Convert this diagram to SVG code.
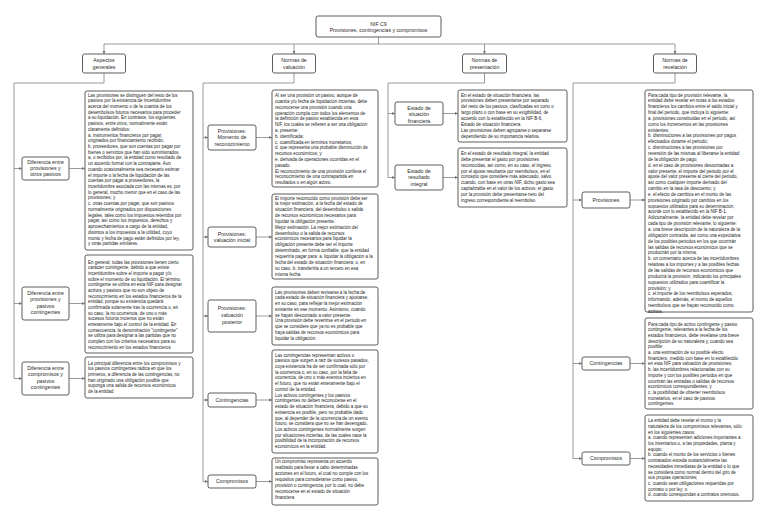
<svg xmlns="http://www.w3.org/2000/svg" width="768" height="521" viewBox="0 0 768 521">
<defs>
<marker id="ah" viewBox="0 0 6 6" refX="6" refY="3" markerWidth="3.5" markerHeight="3.5" markerUnits="userSpaceOnUse" orient="auto"><path d="M0,0 L6,3 L0,6 z" fill="#777"/></marker>
<style>
.box{fill:#fff;stroke:#555;stroke-width:0.95}
.lbl{font-family:"Liberation Sans",Arial,sans-serif;font-size:5.2px;fill:#2a2a2a;text-anchor:middle}
.txt{font-family:"Liberation Sans",Arial,sans-serif;font-size:4.45px;fill:#1a1a1a}
.c{fill:none;stroke:#808080;stroke-width:0.8}
.a{fill:none;stroke:#808080;stroke-width:0.8;marker-end:url(#ah)}
</style>
</defs>
<rect width="768" height="521" fill="#fff"/>
<g id="connectors">
<path class="c" d="M378.5,37 V44 M104,44 H675"/>
<path class="a" d="M104,44 V54"/><path class="a" d="M294,44 V54"/><path class="a" d="M484.5,44 V54"/><path class="a" d="M675,44 V54"/>
<path class="c" d="M104,73 V83 H14 V378.5"/>
<path class="a" d="M14,168.5 H22"/><path class="a" d="M14,303.5 H22"/><path class="a" d="M14,378.5 H22"/>
<path class="a" d="M69,168.5 H85"/><path class="a" d="M69,303.5 H85"/><path class="a" d="M69,378.5 H85"/>
<path class="c" d="M294,73 V83 H203 V481.5"/>
<path class="a" d="M203,137.5 H208"/><path class="a" d="M203,237 H208"/><path class="a" d="M203,316 H208"/><path class="a" d="M203,400 H208"/><path class="a" d="M203,481.5 H208"/>
<path class="a" d="M256,137.5 H272"/><path class="a" d="M256,237 H272"/><path class="a" d="M256,316 H272"/><path class="a" d="M256,400 H272"/><path class="a" d="M256,481.5 H272"/>
<path class="c" d="M484.5,73 V83 H388 V177.5"/>
<path class="a" d="M388,113.5 H395"/><path class="a" d="M388,177.5 H395"/>
<path class="a" d="M443,113.5 H458"/><path class="a" d="M443,177.5 H458"/>
<path class="c" d="M675,73 V83 H573 V458.5"/>
<path class="a" d="M573,200 H582"/><path class="a" d="M573,363.5 H582"/><path class="a" d="M573,458.5 H582"/>
<path class="a" d="M630,200 H645"/><path class="a" d="M630,363.5 H645"/><path class="a" d="M630,458.5 H645"/>
</g>
<g id="root"><rect class="box" x="316" y="16" width="125" height="21" rx="2"/><text class="lbl" x="378.5" y="25.5">NIF C9</text><text class="lbl" x="378.5" y="32">Provisiones, contingencias y compromisos</text></g>
<g id="aspectos"><rect class="box" x="82.5" y="54" width="43" height="19" rx="2"/><text class="lbl" x="104" y="62">Aspectos</text><text class="lbl" x="104" y="68.5">generales</text></g>
<g id="valuacion"><rect class="box" x="272.5" y="54" width="43" height="19" rx="2"/><text class="lbl" x="294" y="62">Normas de</text><text class="lbl" x="294" y="68.5">valuación</text></g>
<g id="presentacion"><rect class="box" x="462.5" y="54" width="44" height="19" rx="2"/><text class="lbl" x="484.5" y="62">Normas de</text><text class="lbl" x="484.5" y="68.5">presentación</text></g>
<g id="revelacion"><rect class="box" x="653.5" y="54" width="43" height="19" rx="2"/><text class="lbl" x="675" y="62">Normas de</text><text class="lbl" x="675" y="68.5">revelación</text></g>

<g id="dif-otros"><rect class="box" x="22" y="157" width="47" height="23" rx="2"/><text class="lbl" x="45.5" y="163.5">Diferencia entre<tspan x="45.5" dy="6">provisiones y</tspan><tspan x="45.5" dy="6">otros pasivos</tspan></text></g>
<g id="dif-otros-txt"><rect class="box" x="85" y="91" width="108" height="159" rx="2"/><text class="txt" x="88" y="96.5">Las provisiones se distinguen del resto de los<tspan x="88" dy="5.72">pasivos por la existencia de incertidumbre</tspan><tspan x="88" dy="5.72">acerca del momento o de la cuantía de los</tspan><tspan x="88" dy="5.72">desembolsos futuros necesarios para proceder</tspan><tspan x="88" dy="5.72">a su liquidación. En contraste, los siguientes</tspan><tspan x="88" dy="5.72">pasivos, entre otros, normalmente están</tspan><tspan x="88" dy="5.72">claramente definidos:</tspan><tspan x="88" dy="5.72">a. instrumentos financieros por pagar,</tspan><tspan x="88" dy="5.72">originados por financiamiento recibido;</tspan><tspan x="88" dy="5.72">b. proveedores, que son cuentas por pagar por</tspan><tspan x="88" dy="5.72">bienes o servicios que han sido suministrados</tspan><tspan x="88" dy="5.72">a, o recibidos por, la entidad como resultado de</tspan><tspan x="88" dy="5.72">un acuerdo formal con la contraparte. Aun</tspan><tspan x="88" dy="5.72">cuando ocasionalmente sea necesario estimar</tspan><tspan x="88" dy="5.72">el importe o la fecha de liquidación de las</tspan><tspan x="88" dy="5.72">cuentas por pagar a proveedores, la</tspan><tspan x="88" dy="5.72">incertidumbre asociada con las mismas es, por</tspan><tspan x="88" dy="5.72">lo general, mucho menor que en el caso de las</tspan><tspan x="88" dy="5.72">provisiones; y</tspan><tspan x="88" dy="5.72">c. otras cuentas por pagar, que son pasivos</tspan><tspan x="88" dy="5.72">normalmente originados por disposiciones</tspan><tspan x="88" dy="5.72">legales, tales como los impuestos retenidos por</tspan><tspan x="88" dy="5.72">pagar, así como los impuestos, derechos y</tspan><tspan x="88" dy="5.72">aprovechamientos a cargo de la entidad,</tspan><tspan x="88" dy="5.72">distintos a los impuestos a la utilidad, cuyo</tspan><tspan x="88" dy="5.72">monto y fecha de pago están definidos por ley,</tspan><tspan x="88" dy="5.72">y otras partidas similares.</tspan></text></g>

<g id="dif-contingentes"><rect class="box" x="22" y="287" width="47" height="33" rx="2"/><text class="lbl" x="45.5" y="294.5">Diferencia entre<tspan x="45.5" dy="6.5">provisiones y</tspan><tspan x="45.5" dy="6.5">pasivos</tspan><tspan x="45.5" dy="6.5">contingentes</tspan></text></g>
<g id="dif-contingentes-txt"><rect class="box" x="85" y="255" width="108" height="98" rx="2"/><text class="txt" x="88" y="263.5">En general, todas las provisiones tienen cierto<tspan x="88" dy="5.67">carácter contingente, debido a que existe</tspan><tspan x="88" dy="5.67">incertidumbre sobre el importe a pagar y/o</tspan><tspan x="88" dy="5.67">sobre el momento de su liquidación. El término</tspan><tspan x="88" dy="5.67">contingente se utiliza en esta NIF para designar</tspan><tspan x="88" dy="5.67">activos y pasivos que no son objeto de</tspan><tspan x="88" dy="5.67">reconocimiento en los estados financieros de la</tspan><tspan x="88" dy="5.67">entidad, porque su existencia quedará</tspan><tspan x="88" dy="5.67">confirmada solamente tras la ocurrencia o, en</tspan><tspan x="88" dy="5.67">su caso, la no ocurrencia, de uno o más</tspan><tspan x="88" dy="5.67">sucesos futuros inciertos que no están</tspan><tspan x="88" dy="5.67">enteramente bajo el control de la entidad. En</tspan><tspan x="88" dy="5.67">consecuencia, la denominación "contingente"</tspan><tspan x="88" dy="5.67">se utiliza para designar a las partidas que no</tspan><tspan x="88" dy="5.67">cumplen con los criterios necesarios para su</tspan><tspan x="88" dy="5.67">reconocimiento en los estados financieros</tspan></text></g>

<g id="dif-compromisos"><rect class="box" x="22" y="362" width="47" height="33" rx="2"/><text class="lbl" x="45.5" y="369.5">Diferencia entre<tspan x="45.5" dy="6.5">compromisos y</tspan><tspan x="45.5" dy="6.5">pasivos</tspan><tspan x="45.5" dy="6.5">contingentes</tspan></text></g>
<g id="dif-compromisos-txt"><rect class="box" x="85" y="357" width="108" height="41" rx="2"/><text class="txt" x="88" y="364.5">La principal diferencia entre los compromisos y<tspan x="88" dy="5.7">los pasivos contingentes radica en que los</tspan><tspan x="88" dy="5.7">primeros, a diferencia de las contingencias, no</tspan><tspan x="88" dy="5.7">han originado una obligación posible que</tspan><tspan x="88" dy="5.7">suponga una salida de recursos económicos</tspan><tspan x="88" dy="5.7">de la entidad</tspan></text></g>

<g id="val-momento"><rect class="box" x="208" y="125" width="48" height="25" rx="2"/><text class="lbl" x="232" y="132.5">Provisiones:<tspan x="232" dy="6.5">Momento de</tspan><tspan x="232" dy="6.5">reconocimiento</tspan></text></g>
<g id="val-momento-txt"><rect class="box" x="272" y="90" width="106" height="97" rx="2"/><text class="txt" x="275" y="97.2">Al ser una provisión un pasivo, aunque de<tspan x="275" dy="5.8">cuantía y/o fecha de liquidación inciertas, debe</tspan><tspan x="275" dy="5.8">reconocerse una provisión cuando una</tspan><tspan x="275" dy="5.8">operación cumpla con todos los elementos de</tspan><tspan x="275" dy="5.8">la definición de pasivo establecida en esta</tspan><tspan x="275" dy="5.8">NIF, los cuales se refieren a ser una obligación:</tspan><tspan x="275" dy="5.8">a. presente;</tspan><tspan x="275" dy="5.8">b. identificada;</tspan><tspan x="275" dy="5.8">c. cuantificada en términos monetarios;</tspan><tspan x="275" dy="5.8">d. que representa una probable disminución de</tspan><tspan x="275" dy="5.8">recursos económicos; y</tspan><tspan x="275" dy="5.8">e. derivada de operaciones ocurridas en el</tspan><tspan x="275" dy="5.8">pasado.</tspan><tspan x="275" dy="5.8">El reconocimiento de una provisión conlleva el</tspan><tspan x="275" dy="5.8">reconocimiento de una contrapartida en</tspan><tspan x="275" dy="5.8">resultados o en algún activo.</tspan></text></g>

<g id="val-inicial"><rect class="box" x="208" y="227" width="48" height="20" rx="2"/><text class="lbl" x="232" y="235.5">Provisiones:<tspan x="232" dy="6.5">valuación inicial</tspan></text></g>
<g id="val-inicial-txt"><rect class="box" x="272" y="194" width="106" height="85" rx="2"/><text class="txt" x="275" y="199.5">El importe reconocido como provisión debe ser<tspan x="275" dy="5.85">la mejor estimación, a la fecha del estado de</tspan><tspan x="275" dy="5.85">situación financiera, del desembolso o salida</tspan><tspan x="275" dy="5.85">de recursos económicos necesarios para</tspan><tspan x="275" dy="5.85">liquidar la obligación presente.</tspan><tspan x="275" dy="5.85">Mejor estimación. La mejor estimación del</tspan><tspan x="275" dy="5.85">desembolso o la salida de recursos</tspan><tspan x="275" dy="5.85">económicos necesarios para liquidar la</tspan><tspan x="275" dy="5.85">obligación presente debe ser el importe</tspan><tspan x="275" dy="5.85">determinado, en forma confiable, que la entidad</tspan><tspan x="275" dy="5.85">requeriría pagar para: a. liquidar la obligación a la</tspan><tspan x="275" dy="5.85">fecha del estado de situación financiera; o, en</tspan><tspan x="275" dy="5.85">su caso, b. transferirla a un tercero en esa</tspan><tspan x="275" dy="5.85">misma fecha.</tspan></text></g>

<g id="val-posterior"><rect class="box" x="208" y="300" width="48" height="32" rx="2"/><text class="lbl" x="232" y="310">Provisiones:<tspan x="232" dy="6.8">valuación</tspan><tspan x="232" dy="6.8">posterior</tspan></text></g>
<g id="val-posterior-txt"><rect class="box" x="272" y="287" width="106" height="58" rx="2"/><text class="txt" x="275" y="293.5">Las provisiones deben revisarse a la fecha de<tspan x="275" dy="5.75">cada estado de situación financiera y ajustarse,</tspan><tspan x="275" dy="5.75">en su caso, para reflejar la mejor estimación</tspan><tspan x="275" dy="5.75">existente en ese momento. Asimismo, cuando</tspan><tspan x="275" dy="5.75">se hayan descontado a valor presente.</tspan><tspan x="275" dy="5.75">Una provisión debe revertirse en el período en</tspan><tspan x="275" dy="5.75">que se considere que ya no es probable que</tspan><tspan x="275" dy="5.75">haya salidas de recursos económicos para</tspan><tspan x="275" dy="5.75">liquidar la obligación.</tspan></text></g>

<g id="val-contingencias"><rect class="box" x="208" y="393" width="48" height="14" rx="2"/><text class="lbl" x="232" y="401.8">Contingencias</text></g>
<g id="val-contingencias-txt"><rect class="box" x="272" y="350" width="106" height="103" rx="2"/><text class="txt" x="275" y="356.5">Las contingencias representan activos o<tspan x="275" dy="5.73">pasivos que surgen a raíz de sucesos pasados,</tspan><tspan x="275" dy="5.73">cuya existencia ha de ser confirmada sólo por</tspan><tspan x="275" dy="5.73">la ocurrencia o, en su caso, por la falta de</tspan><tspan x="275" dy="5.73">ocurrencia, de uno o más eventos inciertos en</tspan><tspan x="275" dy="5.73">el futuro, que no están enteramente bajo el</tspan><tspan x="275" dy="5.73">control de la entidad.</tspan><tspan x="275" dy="5.73">Los activos contingentes y los pasivos</tspan><tspan x="275" dy="5.73">contingentes no deben reconocerse en el</tspan><tspan x="275" dy="5.73">estado de situación financiera, debido a que su</tspan><tspan x="275" dy="5.73">existencia es posible, pero no probable dado</tspan><tspan x="275" dy="5.73">que, al depender de la ocurrencia de un evento</tspan><tspan x="275" dy="5.73">futuro, se considera que no se han devengado.</tspan><tspan x="275" dy="5.73">Los activos contingentes normalmente surgen</tspan><tspan x="275" dy="5.73">por situaciones inciertas, de las cuales nace la</tspan><tspan x="275" dy="5.73">posibilidad de la incorporación de recursos</tspan><tspan x="275" dy="5.73">económicos en la entidad.</tspan></text></g>

<g id="val-compromisos"><rect class="box" x="208" y="475" width="48" height="13" rx="2"/><text class="lbl" x="232" y="483.3">Compromisos</text></g>
<g id="val-compromisos-txt"><rect class="box" x="272" y="458" width="106" height="47" rx="2"/><text class="txt" x="275" y="462.5">Un compromiso representa un acuerdo<tspan x="275" dy="6">realizado para llevar a cabo determinadas</tspan><tspan x="275" dy="6">acciones en el futuro, el cual no cumple con los</tspan><tspan x="275" dy="6">requisitos para considerarse como pasivo,</tspan><tspan x="275" dy="6">provisión o contingencia, por lo cual, no debe</tspan><tspan x="275" dy="6">reconocerse en el estado de situación</tspan><tspan x="275" dy="6">financiera</tspan></text></g>

<g id="pre-situacion"><rect class="box" x="395" y="102" width="48" height="23" rx="2"/><text class="lbl" x="419" y="109.5">Estado de<tspan x="419" dy="6.8">situación</tspan><tspan x="419" dy="6.8">financiera</tspan></text></g>
<g id="pre-situacion-txt"><rect class="box" x="458" y="90" width="109" height="52" rx="2"/><text class="txt" x="461" y="96.5">En el estado de situación financiera, las<tspan x="461" dy="5.86">provisiones deben presentarse por separado</tspan><tspan x="461" dy="5.86">del resto de los pasivos, clasificadas en corto o</tspan><tspan x="461" dy="5.86">largo plazo o con base en su exigibilidad, de</tspan><tspan x="461" dy="5.86">acuerdo con lo establecido en la NIF B-6,</tspan><tspan x="461" dy="5.86">Estado de situación financiera.</tspan><tspan x="461" dy="5.86">Las provisiones deben agruparse o separarse</tspan><tspan x="461" dy="5.86">dependiendo de su importancia relativa.</tspan></text></g>

<g id="pre-resultado"><rect class="box" x="395" y="165" width="48" height="25" rx="2"/><text class="lbl" x="419" y="172.5">Estado de<tspan x="419" dy="6.8">resultado</tspan><tspan x="419" dy="6.8">integral</tspan></text></g>
<g id="pre-resultado-txt"><rect class="box" x="458" y="148" width="109" height="59" rx="2"/><text class="txt" x="461" y="154.8">En el estado de resultado integral, la entidad<tspan x="461" dy="5.9">debe presentar el gasto por provisiones</tspan><tspan x="461" dy="5.9">reconocidas, así como, en su caso, el ingreso</tspan><tspan x="461" dy="5.9">por el ajuste resultante por reembolsos, en el</tspan><tspan x="461" dy="5.9">concepto que considere más adecuado, salvo</tspan><tspan x="461" dy="5.9">cuando, con base en otras NIF, dicho gasto sea</tspan><tspan x="461" dy="5.9">capitalizable en el valor de los activos; el gasto</tspan><tspan x="461" dy="5.9">por la provisión debe presentarse neto del</tspan><tspan x="461" dy="5.9">ingreso correspondiente al reembolso</tspan></text></g>

<g id="rev-provisiones"><rect class="box" x="582" y="192" width="48" height="16" rx="2"/><text class="lbl" x="606" y="201.8">Provisiones</text></g>
<g id="rev-provisiones-txt"><rect class="box" x="645" y="90" width="108" height="222" rx="2"/><text class="txt" x="648" y="96.5">Para cada tipo de provisión relevante, la<tspan x="648" dy="5.85">entidad debe revelar en notas a los estados</tspan><tspan x="648" dy="5.85">financieros los cambios entre el saldo inicial y</tspan><tspan x="648" dy="5.85">final del periodo, que incluya lo siguiente:</tspan><tspan x="648" dy="5.85">a. provisiones constituidas en el periodo, así</tspan><tspan x="648" dy="5.85">como los incrementos en las provisiones</tspan><tspan x="648" dy="5.85">existentes;</tspan><tspan x="648" dy="5.85">b. disminuciones a las provisiones por pagos</tspan><tspan x="648" dy="5.85">efectuados durante el periodo;</tspan><tspan x="648" dy="5.85">c. disminuciones a las provisiones por</tspan><tspan x="648" dy="5.85">reversión de las mismas al liberarse la entidad</tspan><tspan x="648" dy="5.85">de la obligación de pago;</tspan><tspan x="648" dy="5.85">d. en el caso de provisiones descontadas a</tspan><tspan x="648" dy="5.85">valor presente, el importe del periodo por el</tspan><tspan x="648" dy="5.85">ajuste del valor presente al cierre del periodo,</tspan><tspan x="648" dy="5.85">así como cualquier importe derivado del</tspan><tspan x="648" dy="5.85">cambio en la tasa de descuento; y</tspan><tspan x="648" dy="5.85">e. el efecto de cambios en el monto de las</tspan><tspan x="648" dy="5.85">provisiones originado por cambios en los</tspan><tspan x="648" dy="5.85">supuestos utilizados para su determinación,</tspan><tspan x="648" dy="5.85">acorde con lo establecido en la NIF B-1.</tspan><tspan x="648" dy="5.85">Adicionalmente, la entidad debe revelar por</tspan><tspan x="648" dy="5.85">cada tipo de provisión relevante, lo siguiente:</tspan><tspan x="648" dy="5.85">a. una breve descripción de la naturaleza de la</tspan><tspan x="648" dy="5.85">obligación contraída, así como una expectativa</tspan><tspan x="648" dy="5.85">de los posibles periodos en los que ocurrirán</tspan><tspan x="648" dy="5.85">las salidas de recursos económicos que se</tspan><tspan x="648" dy="5.85">producirán por la misma;</tspan><tspan x="648" dy="5.85">b. un comentario acerca de las incertidumbres</tspan><tspan x="648" dy="5.85">relativas a los importes y a las posibles fechas</tspan><tspan x="648" dy="5.85">de las salidas de recursos económicos que</tspan><tspan x="648" dy="5.85">producirá la provisión, indicando los principales</tspan><tspan x="648" dy="5.85">supuestos utilizados para cuantificar la</tspan><tspan x="648" dy="5.85">provisión; y</tspan><tspan x="648" dy="5.85">c. el importe de los reembolsos esperados,</tspan><tspan x="648" dy="5.85">informando, además, el monto de aquellos</tspan><tspan x="648" dy="5.85">reembolsos que se hayan reconocido como</tspan><tspan x="648" dy="5.85">activos.</tspan></text></g>

<g id="rev-contingencias"><rect class="box" x="582" y="357" width="48" height="13" rx="2"/><text class="lbl" x="606" y="365.3">Contingencias</text></g>
<g id="rev-contingencias-txt"><rect class="box" x="645" y="318" width="108" height="91" rx="2"/><text class="txt" x="648" y="325.5">Para cada tipo de activo contingente y pasivo<tspan x="648" dy="5.7">contingente, relevantes a la fecha de los</tspan><tspan x="648" dy="5.7">estados financieros, debe revelarse una breve</tspan><tspan x="648" dy="5.7">descripción de su naturaleza y, cuando sea</tspan><tspan x="648" dy="5.7">posible:</tspan><tspan x="648" dy="5.7">a. una estimación de su posible efecto</tspan><tspan x="648" dy="5.7">financiero, medido con base en lo establecido</tspan><tspan x="648" dy="5.7">en esta NIF para valuación de provisiones;</tspan><tspan x="648" dy="5.7">b. las incertidumbres relacionadas con su</tspan><tspan x="648" dy="5.7">importe y con los posibles periodos en que</tspan><tspan x="648" dy="5.7">ocurrirán las entradas o salidas de recursos</tspan><tspan x="648" dy="5.7">económicos correspondientes; y</tspan><tspan x="648" dy="5.7">c. la posibilidad de obtener reembolsos</tspan><tspan x="648" dy="5.7">monetarios, en el caso de pasivos</tspan><tspan x="648" dy="5.7">contingentes.</tspan></text></g>

<g id="rev-compromisos"><rect class="box" x="582" y="452" width="48" height="13" rx="2"/><text class="lbl" x="606" y="460.3">Compromisos</text></g>
<g id="rev-compromisos-txt"><rect class="box" x="645" y="415" width="108" height="86" rx="2"/><text class="txt" x="648" y="422.2">La entidad debe revelar el monto y la<tspan x="648" dy="5.7">naturaleza de los compromisos relevantes, sólo</tspan><tspan x="648" dy="5.7">en los siguientes casos:</tspan><tspan x="648" dy="5.7">a. cuando representen adiciones importantes a</tspan><tspan x="648" dy="5.7">los inventarios o, a las propiedades, planta y</tspan><tspan x="648" dy="5.7">equipo;</tspan><tspan x="648" dy="5.7">b. cuando el monto de los servicios o bienes</tspan><tspan x="648" dy="5.7">contratados exceda sustancialmente las</tspan><tspan x="648" dy="5.7">necesidades inmediatas de la entidad o lo que</tspan><tspan x="648" dy="5.7">se considera como normal dentro del giro de</tspan><tspan x="648" dy="5.7">sus propias operaciones;</tspan><tspan x="648" dy="5.7">c. cuando sean obligaciones requeridas por</tspan><tspan x="648" dy="5.7">contrato o por ley; o</tspan><tspan x="648" dy="5.7">d. cuando correspondan a contratos onerosos.</tspan></text></g>
</svg>
